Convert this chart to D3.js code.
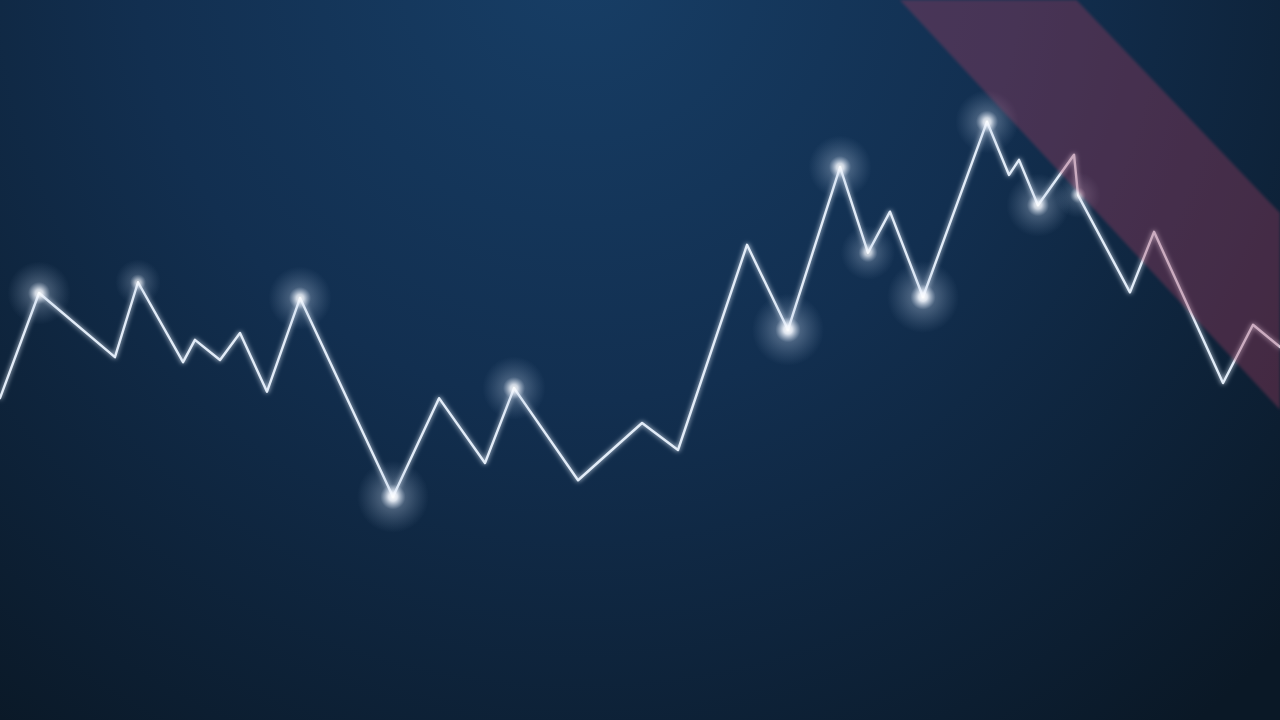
<!DOCTYPE html>
<html><head><meta charset="utf-8">
<script src="https://cdn.jsdelivr.net/npm/d3@7/dist/d3.min.js"></script>
<style>html,body{margin:0;padding:0;background:#0d2138;overflow:hidden}</style>
</head><body>
<script>
// time (0-100) and value (0-100)
const times  = [0, 3.05, 8.98, 10.78, 14.3, 15.23, 17.19, 18.75, 20.86, 23.44, 30.7, 34.3, 37.89, 40.16, 45.16, 50.16, 52.97, 58.36, 61.56, 65.63, 67.81, 69.53, 72.11, 77.11, 78.83, 79.61, 81.09, 83.91, 84.22, 88.28, 90.16, 95.55, 97.89, 100];
const values = [44.7, 59.3, 50.4, 60.8, 49.7, 52.8, 50.0, 53.75, 45.6, 58.6, 31.0, 44.7, 35.7, 46.1, 33.3, 41.25, 37.5, 66.0, 54.2, 76.8, 64.9, 70.6, 58.75, 83.1, 75.7, 77.8, 71.5, 78.5, 72.9, 59.4, 67.8, 46.8, 54.9, 51.8];
// highlighted (glowing) points: index into series, glow strength
const glowIdx = [1, 3, 9, 10, 13, 18, 19, 20, 22, 23, 26, 28];
const glowStr = [0.8, 0.4, 0.8, 1.0, 0.8, 1.0, 0.8, 0.6, 1.0, 0.8, 0.8, 0.4];
// diagonal highlight band (time, value) corners
const bandT = [70.3, 84.1, 100, 100];
const bandV = [100, 100, 70.4, 43.1];

const W = 1280, H = 720;
const x = d3.scaleLinear().domain([0, 100]).range([0, W]);
const y = d3.scaleLinear().domain([0, 100]).range([H, 0]);

const svg = d3.select("body").append("svg").attr("width", W).attr("height", H);
const defs = svg.append("defs");

const bg = defs.append("radialGradient").attr("id", "bg")
  .attr("gradientUnits", "userSpaceOnUse").attr("cx", 580).attr("cy", -40).attr("r", 980);
bg.append("stop").attr("offset", 0).attr("stop-color", "#173e66");
bg.append("stop").attr("offset", 0.45).attr("stop-color", "#122f50");
bg.append("stop").attr("offset", 1).attr("stop-color", "#0a1826");

const glowG = defs.append("radialGradient").attr("id", "glow");
glowG.append("stop").attr("offset", 0).attr("stop-color", "#ffffff").attr("stop-opacity", 1);
glowG.append("stop").attr("offset", 0.12).attr("stop-color", "#f4f8ff").attr("stop-opacity", 0.9);
glowG.append("stop").attr("offset", 0.35).attr("stop-color", "#c8d8ee").attr("stop-opacity", 0.3);
glowG.append("stop").attr("offset", 1).attr("stop-color", "#a0b8d8").attr("stop-opacity", 0);

const lf = defs.append("filter").attr("id", "lineGlow").attr("x", "-10%").attr("y", "-10%").attr("width", "120%").attr("height", "120%");
lf.append("feGaussianBlur").attr("stdDeviation", 2.5).attr("result", "b");
const m = lf.append("feMerge");
m.append("feMergeNode").attr("in", "b");
m.append("feMergeNode").attr("in", "SourceGraphic");

const bf = defs.append("filter").attr("id", "soft");
bf.append("feGaussianBlur").attr("stdDeviation", 1.5);

svg.append("rect").attr("width", W).attr("height", H).attr("fill", "url(#bg)");

const pts = times.map((t, i) => [t, values[i]]);
const line = d3.line().x(d => x(d[0])).y(d => y(d[1]));

svg.append("path").datum(pts).attr("d", line)
  .attr("fill", "none").attr("stroke", "#e2ecf8").attr("stroke-width", 2.4)
  .attr("stroke-linejoin", "round").attr("stroke-linecap", "round")
  .attr("filter", "url(#lineGlow)");

svg.append("g").selectAll("circle").data(glowIdx).join("circle")
  .attr("cx", d => x(times[d])).attr("cy", d => y(values[d]))
  .attr("r", (d, i) => 14 + 22 * glowStr[i])
  .attr("fill", "url(#glow)")
  .attr("opacity", (d, i) => 0.5 + 0.5 * glowStr[i]);

const bandPts = bandT.map((t, i) => [x(t), y(bandV[i])]);
svg.append("polygon").attr("points", bandPts.map(p => p.join(",")).join(" "))
  .attr("fill", "rgb(165,62,95)").attr("opacity", 0.36).attr("filter", "url(#soft)");
</script>
</body></html>
